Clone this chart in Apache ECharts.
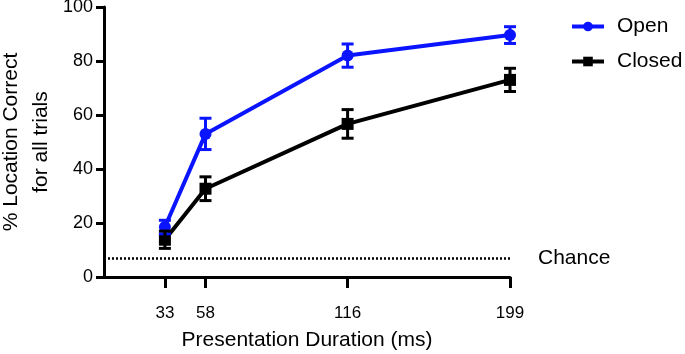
<!DOCTYPE html>
<html>
<head>
<meta charset="utf-8">
<script src="https://cdn.jsdelivr.net/npm/echarts@6/dist/echarts.min.js"></script>
<style>html,body{margin:0;padding:0;background:#fff}#c{width:685px;height:354px}</style>
</head>
<body>
<div id="c"></div>
<script>
// Durations (ms) and their placement along the reference's (non-linear) x axis
const durations = [33, 58, 116, 199];
const xPlacement = [15, 25, 60, 100];
const openMean = [18.5, 53.0, 82.0, 89.6];
const openErr = [2.5, 5.8, 4.3, 3.1];
const closedMean = [13.8, 32.7, 56.7, 73.0];
const closedErr = [3.2, 4.4, 5.3, 4.3];
const chanceLevel = 7;

const FONT = '"Liberation Sans", Arial, Helvetica, sans-serif';
const BLUE = '#0a14ff';
const BLACK = '#000000';

function pts(means) { return means.map((v, i) => [xPlacement[i], v]); }
function errData(means, errs) { return means.map((v, i) => [xPlacement[i], v - errs[i], v + errs[i]]); }

function errRender(color) {
  return function (params, api) {
    const x = api.value(0);
    const lo = api.coord([x, api.value(1)]);
    const hi = api.coord([x, api.value(2)]);
    const w = 6;
    const style = { stroke: color, lineWidth: 3 };
    return {
      type: 'group',
      children: [
        { type: 'line', shape: { x1: lo[0], y1: lo[1], x2: hi[0], y2: hi[1] }, style },
        { type: 'line', shape: { x1: lo[0] - w, y1: lo[1], x2: lo[0] + w, y2: lo[1] }, style },
        { type: 'line', shape: { x1: hi[0] - w, y1: hi[1], x2: hi[0] + w, y2: hi[1] }, style }
      ]
    };
  };
}

const chart = echarts.init(document.getElementById('c'), null, { renderer: 'canvas' });
chart.setOption({
  animation: false,
  textStyle: { fontFamily: FONT },
  grid: { left: 104, right: 175, top: 7, bottom: 77, containLabel: false, outerBoundsMode: 'none' },
  legend: {
    orient: 'vertical',
    left: 565, top: 11,
    itemWidth: 32, itemHeight: 12, itemGap: 14,
    lineStyle: { width: 4 },
    textStyle: { fontFamily: FONT, fontSize: 21, color: '#000', padding: [0, 0, 0, 8] },
    data: ['Open', 'Closed']
  },
  xAxis: {
    type: 'value', min: 0, max: 100,
    name: 'Presentation Duration (ms)', nameLocation: 'middle', nameGap: 53, nameMoveOverlap: false,
    nameTextStyle: { fontFamily: FONT, fontSize: 21, color: '#000' },
    axisLine: { show: true, lineStyle: { color: '#000', width: 3 } },
    axisTick: { show: true, length: 11, lineStyle: { color: '#000', width: 3 }, customValues: xPlacement },
    axisLabel: {
      customValues: xPlacement, margin: 28, fontFamily: FONT, fontSize: 17, color: '#000',
      formatter: v => { const i = xPlacement.indexOf(v); return i >= 0 ? String(durations[i]) : ''; }
    },
    splitLine: { show: false }
  },
  yAxis: {
    type: 'value', min: 0, max: 100, interval: 20,
    name: '% Location Correct\nfor all trials', nameLocation: 'middle', nameGap: 48, nameRotate: 90, nameMoveOverlap: false,
    nameTextStyle: { fontFamily: FONT, fontSize: 21, color: '#000', lineHeight: 30 },
    axisLine: { show: true, lineStyle: { color: '#000', width: 3 } },
    axisTick: { show: true, length: 8, lineStyle: { color: '#000', width: 3 } },
    axisLabel: { margin: 11, fontFamily: FONT, fontSize: 18, color: '#000' },
    splitLine: { show: false }
  },
  series: [
    {
      name: 'Open', type: 'line', data: pts(openMean),
      symbol: 'circle', symbolSize: 12,
      lineStyle: { color: BLUE, width: 4 }, itemStyle: { color: BLUE }, z: 4,
      markLine: {
        silent: true, symbol: 'none',
        lineStyle: { color: '#000', type: [2, 2], width: 2.5 },
        label: { show: true, position: 'end', formatter: 'Chance', fontFamily: FONT, fontSize: 21, color: '#000', distance: 28 },
        data: [{ yAxis: chanceLevel }]
      }
    },
    {
      name: 'Closed', type: 'line', data: pts(closedMean),
      symbol: 'rect', symbolSize: 12,
      lineStyle: { color: BLACK, width: 4 }, itemStyle: { color: BLACK }, z: 3
    },
    { type: 'custom', data: errData(openMean, openErr), renderItem: errRender(BLUE), z: 5, silent: true },
    { type: 'custom', data: errData(closedMean, closedErr), renderItem: errRender(BLACK), z: 5, silent: true }
  ]
});
</script>
</body>
</html>
